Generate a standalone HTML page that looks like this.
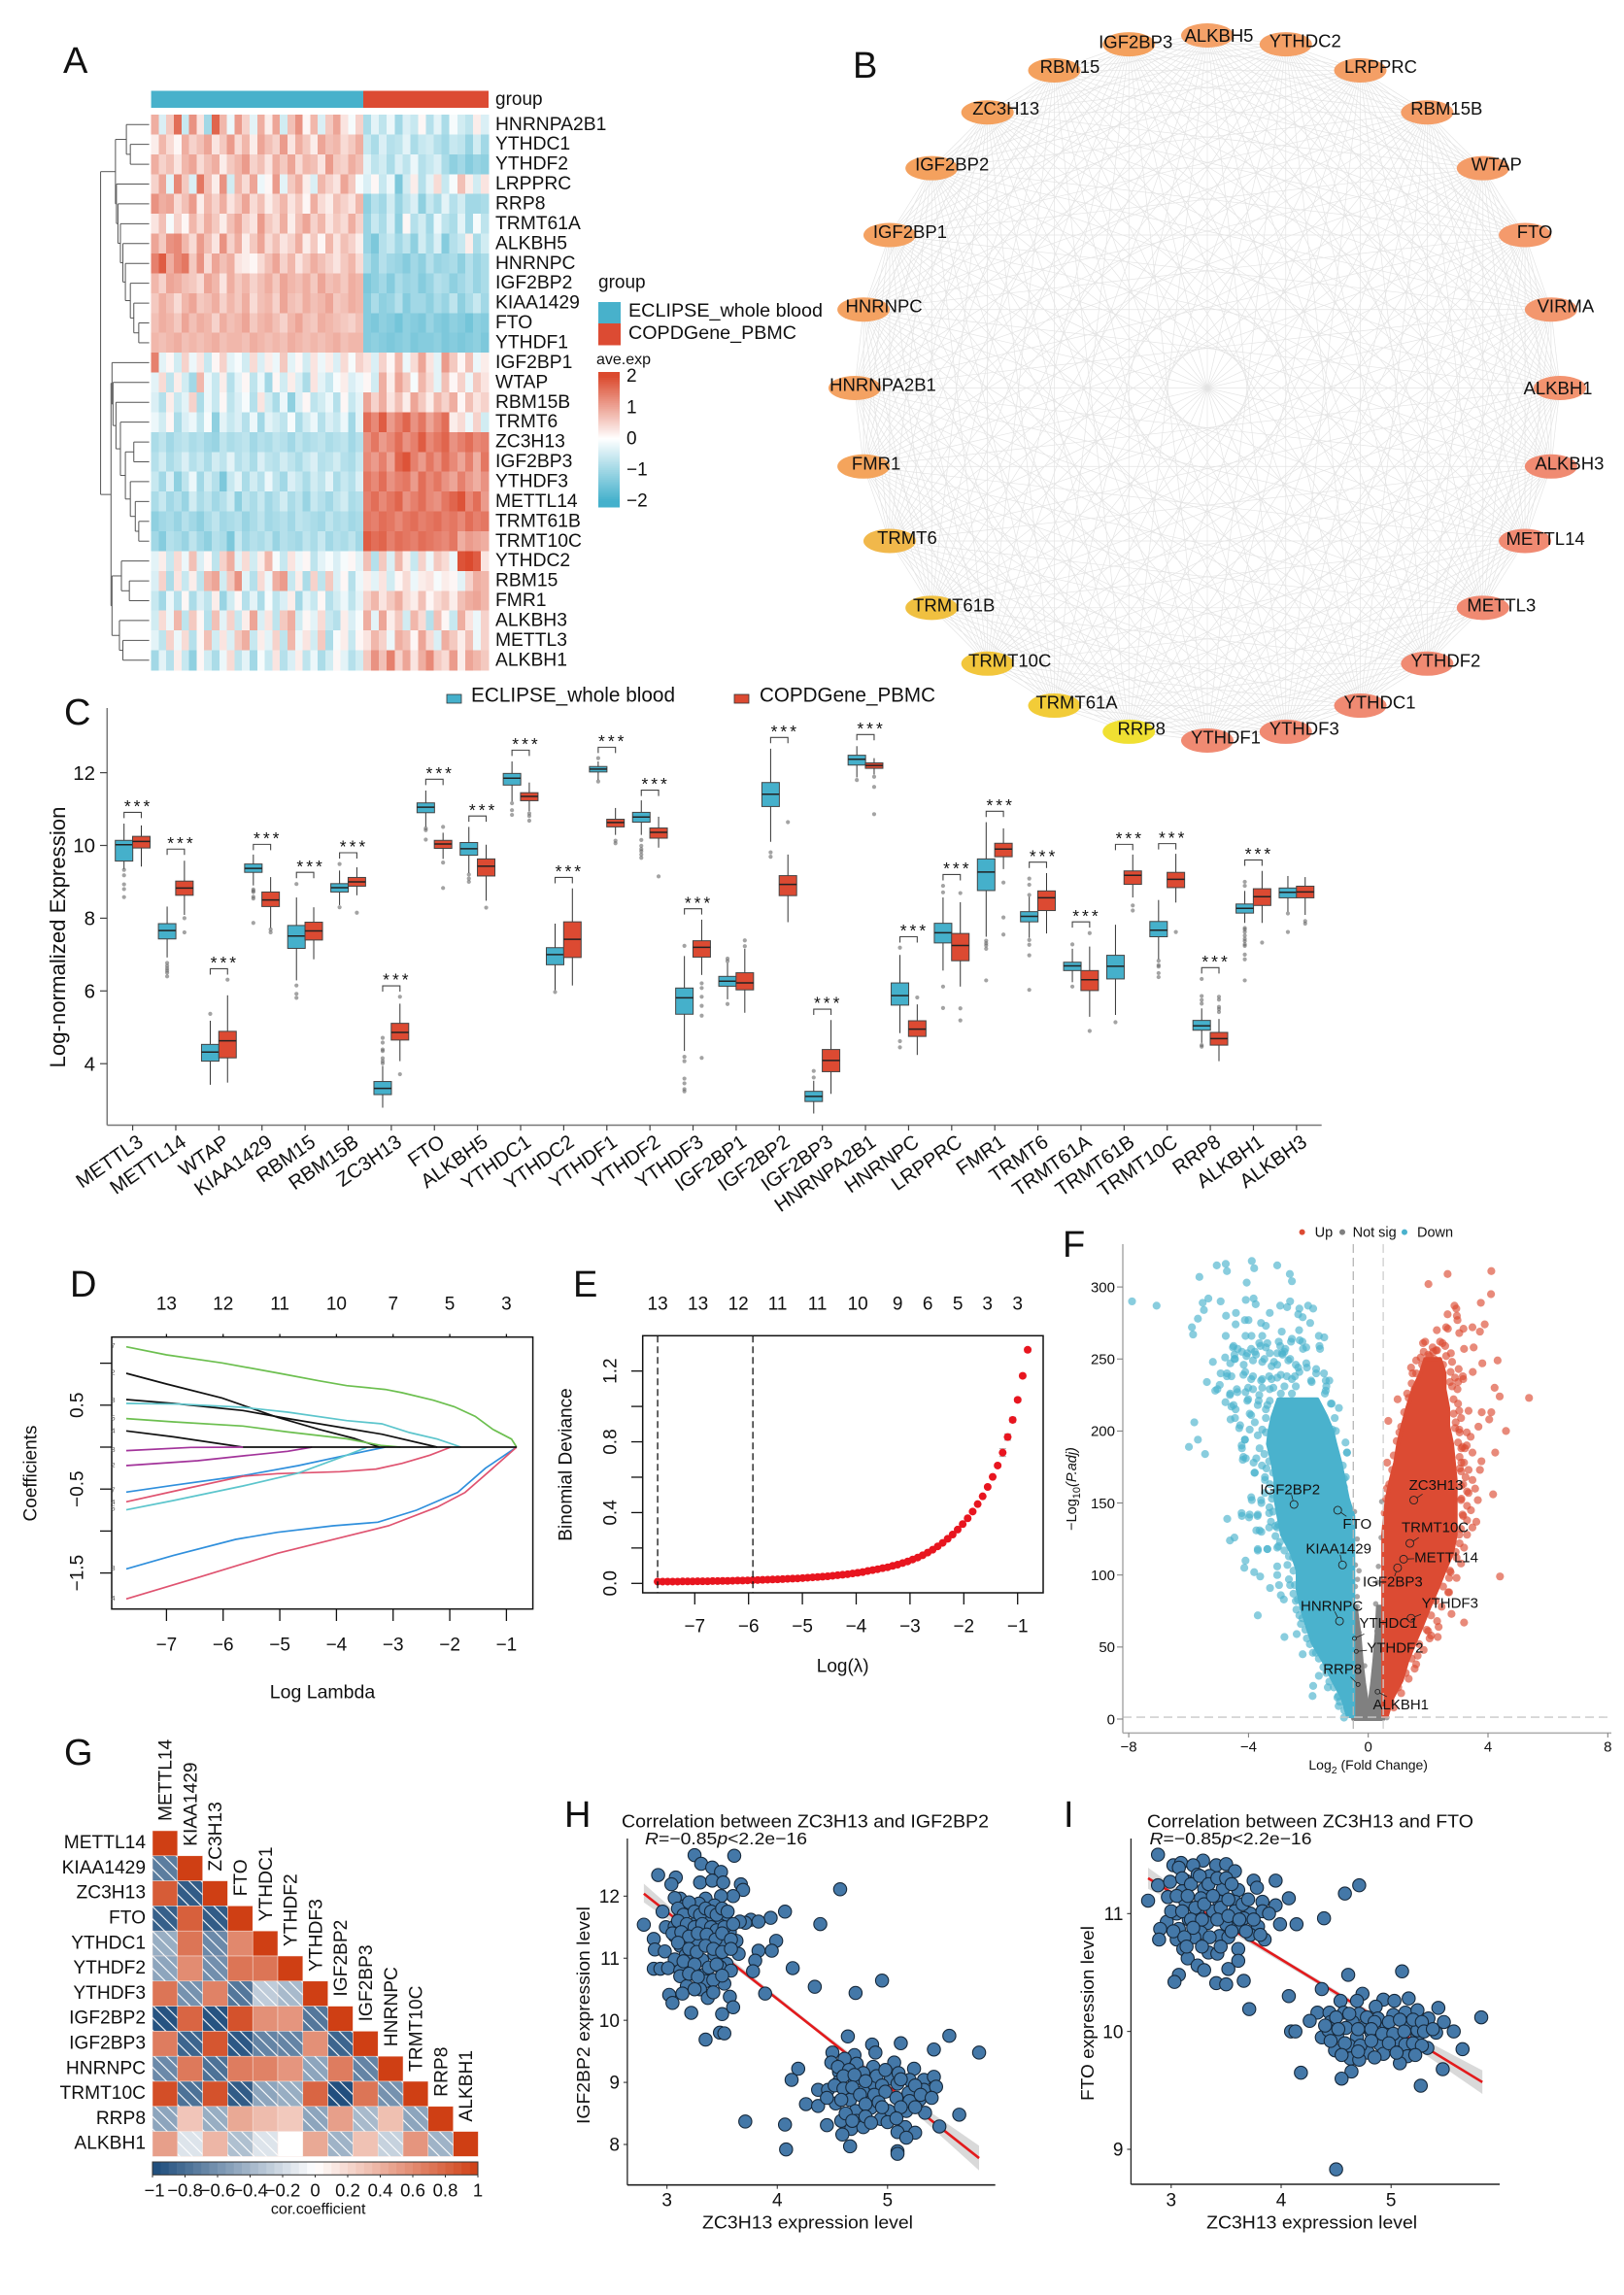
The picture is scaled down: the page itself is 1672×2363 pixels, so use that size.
<!DOCTYPE html>
<html lang="en">
<head>
<meta charset="utf-8">
<title>m6A regulator figure</title>
<style>
html,body{margin:0;padding:0;background:#fff}
svg{display:block}
text{font-family:"Liberation Sans",Arial,sans-serif;fill:#111}
</style>
</head>
<body>
<svg id="fig" xmlns="http://www.w3.org/2000/svg" width="1672" height="2363" viewBox="0 0 1672 2363">
<defs>
<pattern id="hatch" width="9" height="9" patternUnits="userSpaceOnUse" patternTransform="rotate(-45)"><line x1="1" y1="0" x2="1" y2="9" stroke="#fff" stroke-width="1.1"/></pattern>
</defs>
<rect width="1672" height="2363" fill="#fff"/>
<g id="pA"></g>
<g id="pB"></g>
<g id="pC"></g>
<g id="pD"></g>
<g id="pE"></g>
<g id="pF"></g>
<g id="pG"></g>
<g id="pH"></g>
<g id="pI"></g>
<g font-size="38">
<text x="65" y="75">A</text>
<text x="878" y="80">B</text>
<text x="66" y="746">C</text>
<text x="72" y="1335">D</text>
<text x="590" y="1335">E</text>
<text x="1094" y="1294">F</text>
<text x="66" y="1817">G</text>
<text x="581" y="1881">H</text>
<text x="1095" y="1881">I</text>
</g>
</svg>
<script>
/* ---------- DATA: panel A ---------- */
const heatGenes=['HNRNPA2B1','YTHDC1','YTHDF2','LRPPRC','RRP8','TRMT61A','ALKBH5','HNRNPC','IGF2BP2','KIAA1429','FTO','YTHDF1','IGF2BP1','WTAP','RBM15B','TRMT6','ZC3H13','IGF2BP3','YTHDF3','METTL14','TRMT61B','TRMT10C','YTHDC2','RBM15','FMR1','ALKBH3','METTL3','ALKBH1'];
const heatValues=[
[.9,-.4,.6,1.6,-.6,1.2,.3,-1,1.7,.8,-.2,1.1,.5,-.3,.9,.2,1,-.5,.7,1.2,.1,.8,-.4,.6,1,.3,-.1,.5,-.9,-.3,-.7,-.2,-1,-.4,-.6,.1,-.8,-.3,-.9,-.1,-.5,-.7,.2,-.4],
[.2,.8,.4,.1,.9,.5,.7,1,.3,.6,1.1,.4,.8,.2,1,.7,.5,1.1,.3,.9,.6,.2,1,.7,.8,.4,.6,.9,-.6,-.9,-.4,-.8,-.7,-.3,-.9,-.6,-.5,-.8,-1,-.6,-.7,-1.1,-.5,-1],
[.9,.5,.7,.3,.8,1,.4,.7,.9,.2,.6,.8,1.1,.5,.7,.3,.9,.6,1,.4,.8,.7,.3,1.1,.6,.5,.9,.7,-.3,-.7,-.5,-.9,-.4,-.7,-.2,-.8,-.6,-.4,-.9,-1.2,-1,-1.3,-1.1,-1.2],
[.5,1,-.3,1.3,.6,-.4,1.5,.7,.2,1.2,-.5,.8,.4,1,-.2,.1,1.1,-.3,.6,.9,.2,-.4,.8,.5,.3,1,.6,-.1,-.4,.1,-.6,-.2,-1.4,-.5,.2,-.8,-.3,.4,-.6,-.1,.7,.2,-.5,.3],
[1.2,.9,1,.4,.7,1.1,.2,.8,.5,.9,.3,.6,1,.4,.7,.2,.5,.8,.3,.6,.1,.9,.4,.2,.7,.5,.3,.8,-1.2,-.8,-1,-.5,-1.1,-.7,-.4,-1.2,-.6,-.9,-.3,-.8,-.5,-1,-1,-.9],
[.3,.7,-.1,.5,.1,.8,.4,.9,.6,.2,.7,1,.5,.3,1.1,.6,.4,.9,.2,.7,1,.5,.8,.3,.6,.4,.9,.5,-1.1,-.6,-.9,-.4,-1.2,.1,-.8,-.5,-1,-.2,-.7,-.9,-.3,-1,-.1,-.7],
[1,.6,1.2,1.3,.8,.4,1.1,.7,.3,1.2,.5,.9,.2,.6,1,.4,.7,.3,.5,.9,.2,.6,.1,.8,.3,.7,.5,.2,-1.1,-1.4,-.8,-.6,-1,-.7,-1.2,-.5,-.9,-.4,-1.3,-.8,-.6,.2,-.9,-.5],
[1.4,1.8,.9,1.3,1.5,.6,1.2,.4,1,.7,.9,.3,.2,.1,.4,.7,1,.5,.8,.3,.6,.9,.7,.5,.3,.6,.8,.4,-.9,-1.2,-.8,-1,-1.1,-1.3,-1,-1.2,-.8,-1.1,-1,-.9,-1.2,-.8,-1.1,-.9],
[.8,.5,1,.9,.7,.6,.4,1,.8,.3,.9,.6,.8,.5,.7,.9,.6,1,.8,.7,.9,.6,1,.7,.8,.6,.9,.8,-1.4,-1.2,-1,-1.3,-.9,-1.1,-1,-1.3,-1.1,-.8,-.9,-1.2,-1,-.8,-1.1,-.9],
[.6,.9,.7,.4,.8,1,.6,.7,.9,.5,.8,.6,.9,.4,.7,.8,.5,1,.7,.6,.9,.7,.8,1,.6,.7,.9,.8,-1.3,-.9,-1.2,-1.1,-.8,-1.3,-1,-1,-1.2,-.9,-1.1,-.7,-1.2,-.9,-.6,-1],
[.7,.9,.8,.6,1,.7,.9,.8,.5,.9,.7,.8,1,.6,.8,.9,.7,.5,.8,1,.7,.6,.9,.8,.7,.6,.5,.7,-1.3,-1.4,-1.2,-1.3,-1.5,-1.2,-1.3,-1.4,-1.1,-1.3,-1.4,-1.2,-1.3,-1.5,-1.2,-1.3],
[.8,.7,.8,.9,.7,.8,.7,.8,.9,.7,.8,.8,.7,.9,.8,.7,.8,.7,.9,.8,.7,.8,.7,.8,.9,.7,.8,.8,-1.3,-1.2,-1.3,-1.4,-1.3,-1.2,-1.4,-1.3,-1.3,-1.2,-1.4,-1.3,-1.4,-1.3,-1.2,-1.4],
[1.4,-.3,.1,-.5,.5,-.2,.3,-.6,.1,.5,-.3,-.1,-.5,.4,-.4,.2,-.2,.6,-.3,.1,-.5,.3,-.2,.2,-.4,.4,-.1,.5,.3,-.4,.5,.1,.8,-.2,.4,1,.3,-.3,1.1,.6,.1,.7,-.2,.2],
[-.3,.4,-.7,.2,-.5,-1,.8,-.2,-.6,.2,-.8,-.3,.1,-.7,-.2,-1,.1,-.5,.2,-.4,-.9,.3,-.3,-.6,-.1,.2,-.4,-.2,.1,-.5,.9,.2,1,.6,-.1,.8,.4,-.3,.7,.1,.5,-.2,.6,.3],
[-.4,-.8,.2,-.6,-.3,.5,-.9,-.2,-.6,.1,-.7,-.4,-.1,-.8,.3,-.5,-.9,-.2,-1.2,-.4,.1,-.7,-.5,-.2,-.8,.1,-.6,-.3,1,.5,.9,.3,.7,.2,1,.6,.2,.8,.5,.9,.1,.7,.3,.5],
[-.2,-.5,.1,-.9,-.4,-.2,-.7,-.1,-1.2,-.3,-.6,-.4,-.8,-.2,-1,-.3,-.5,-.7,-.1,-.9,-.5,-.2,-.8,-.4,-.6,-.2,-1,-.3,1.6,1.3,1.8,1.1,1.4,1.7,1.2,1.5,1,1.3,1.6,.2,.4,-.2,.5,-.5],
[-.9,-.7,-1,-.8,-.7,-.9,-.8,-1,-1.1,-.7,-.9,-.8,-.7,-1,-.8,-.9,-.7,-.8,-1,-.7,-.9,-.8,-.7,-.9,-.8,-.7,-1,-.8,1.2,1.5,1.1,1.3,1.6,1.2,1.4,1.8,1.3,1.5,1.7,1.2,1.4,1.6,1.3,1.4],
[-.8,-.5,-.9,-.7,-.4,-.8,-.6,-.9,-.5,-.7,-.3,-.8,-.6,-.9,-.4,-.7,-.8,-.5,-.7,-.9,-.6,-.4,-.8,-.7,-.5,-.8,-.9,-.6,1.3,1.1,1.4,1,1.7,1.9,1.4,1.1,1.5,1.2,1.6,1.3,1,1.4,.9,1.5],
[-.6,-1,-.4,-1.2,-.7,-.2,-1,-.5,-.8,-1.4,-.6,-.3,-.9,-.5,-.8,-.2,-.7,-1,-.4,-.6,-.9,-.5,-.7,-.3,-.9,-.6,-.8,-.4,1.5,1.3,1.6,1.2,1.4,1.5,1.1,1.6,1.3,1.5,1.2,1,1.4,1.1,.9,1.2],
[-.9,-.6,-1,-.8,-1.1,-.5,-.9,-.7,-1,-.8,-.5,-1.2,-.7,-.9,-.6,-1,-.8,-.5,-.9,-.7,-1.1,-.6,-.8,-1,-.7,-.5,-.9,-.8,1.4,1.6,1.3,1.5,1.7,1.2,1.4,1.6,1.3,1.2,1.5,1.7,1.9,1.3,1.6,1.1],
[-1.2,-1,-.9,-1.1,-.8,-1,-1.2,-.9,-.7,-1,-.9,-.8,-1.1,-.9,-.7,-1,-.9,-.8,-1,-.7,-.8,-.9,-1,-.7,-.9,-.8,-1,-.9,1.5,1.4,1.6,1.5,1.3,1.5,1.6,1.4,1.5,1.6,1.4,1.5,1.3,1.6,1.4,1.5],
[-1,-1.3,-.8,-.9,-1.1,-.7,-1,-1.2,-.8,-.9,-1.4,-.6,-1,-.8,-.9,-.7,-1.1,-.8,-.9,-1,-.7,-.9,-.6,-1,-.8,-.9,-.7,-1,1.8,1.6,1.7,1.4,1.6,1.5,1.4,1.6,1.5,1.4,1.3,1.5,.9,1.1,1,.9],
[-.3,.2,-.6,.4,-.2,.7,-.4,.1,-.7,.5,.9,-.3,.4,-.5,.2,.8,-.1,-.6,.3,-.2,.1,-.7,-.3,-.1,-.4,-.1,.1,-.3,.7,-.8,.6,-.4,.8,.2,-.6,.5,-.2,.6,.4,-.2,1.9,2,1.8,.3],
[-.4,.5,-.9,.3,-.6,.2,-.7,.8,1,-.5,.6,1.2,-.3,-.8,.4,-.2,.9,1.1,-.6,.2,-.9,.5,-.7,.6,-.4,.1,-.8,-.2,.2,-.3,.3,-.5,.1,.4,-.2,.2,.3,-.1,.2,.1,-.3,.5,.9,.8],
[-.6,-1,-.2,-.8,.1,-.9,-.4,-.7,.2,-1.1,-.5,.1,-.8,-.3,-.9,-.1,-.7,-.4,.2,-1,-.3,-.6,.1,-.8,-.5,-.2,-.7,-.3,.5,.8,.3,.6,.9,.4,.2,.7,.1,.4,.6,.2,.7,.9,1,.8],
[-.5,.4,-.2,.8,-.7,.6,.1,-.8,.7,-.3,.5,-.6,.2,1,-.4,.3,-.7,.6,.9,-.5,.1,-.3,.4,-.6,-.8,.2,-.4,-.1,.9,-.3,1,.2,.6,-.5,.8,.4,-.8,.7,.1,-.6,.9,.3,-.2,.5],
[-.3,-.7,.5,-.2,.4,-.8,.1,.7,-.5,.3,-.4,.6,.9,-.6,.2,-.3,.5,-.7,.8,-.2,.3,-.5,.6,-.9,-.1,.2,-.6,.1,.3,.8,.5,-.2,.9,.7,.1,1,.4,-.4,.9,.6,.2,.7,-.2,.5],
[-1,-.3,-.8,.2,-.6,-1.2,.1,-.5,-.9,-.2,.4,-.7,-.3,-1,-.1,-.6,.3,-.8,-.4,.2,-.7,-.2,-.9,-.5,.1,-.3,-.8,-.5,.6,1.2,.7,1.4,.5,1,.3,.9,1.3,.6,.4,1.1,.2,1,.8,.6]
];
/* ---------- DATA: panel B ---------- */
const netNodes=['ALKBH5','YTHDC2','LRPPRC','RBM15B','WTAP','FTO','VIRMA','ALKBH1','ALKBH3','METTL14','METTL3','YTHDF2','YTHDC1','YTHDF3','YTHDF1','RRP8','TRMT61A','TRMT10C','TRMT61B','TRMT6','FMR1','HNRNPA2B1','HNRNPC','IGF2BP1','IGF2BP2','ZC3H13','RBM15','IGF2BP3'];
const netColors=['#f4a168','#f4a066','#f49f66','#f49e68','#f49c68','#f49a6c','#f3976e','#f3936f','#f08b72','#f08a72','#f08a72','#f08a72','#f08a72','#f08a72','#f08a72','#f0e032','#f2cc38','#f2c63c','#f0c040','#f1b84b','#f4a45c','#f4a262','#f4a262','#f4a262','#f4a15e','#f4a15e','#f4a15e','#f4a15e'];
/* ---------- DATA: panel C ---------- */
const boxGenes=['METTL3','METTL14','WTAP','KIAA1429','RBM15','RBM15B','ZC3H13','FTO','ALKBH5','YTHDC1','YTHDC2','YTHDF1','YTHDF2','YTHDF3','IGF2BP1','IGF2BP2','IGF2BP3','HNRNPA2B1','HNRNPC','LRPPRC','FMR1','TRMT6','TRMT61A','TRMT61B','TRMT10C','RRP8','ALKBH1','ALKBH3'];
const blueStats=[[9.35,9.57,10.02,10.14,10.6],[6.92,7.43,7.66,7.85,8.32],[3.42,4.07,4.32,4.53,5.18],[8.9,9.26,9.37,9.49,9.75],[6.29,7.17,7.51,7.8,8.57],[8.36,8.72,8.84,8.95,9.31],[2.79,3.15,3.32,3.51,3.94],[10.51,10.9,11.05,11.17,11.51],[9.24,9.73,9.91,10.08,10.51],[11.21,11.66,11.85,11.98,12.31],[6.02,6.72,7,7.19,7.85],[11.8,12.02,12.1,12.17,12.31],[10.29,10.64,10.78,10.91,11.24],[4.35,5.36,5.81,6.08,6.96],[5.77,6.13,6.27,6.4,6.77],[10.1,11.07,11.41,11.73,12.66],[2.63,2.96,3.1,3.24,3.53],[11.87,12.21,12.37,12.48,12.73],[4.84,5.61,5.87,6.22,6.99],[6.56,7.32,7.6,7.86,8.57],[7.49,8.76,9.27,9.63,10.64],[7.46,7.9,8.05,8.18,8.59],[6.24,6.56,6.69,6.79,7.16],[5.34,6.33,6.68,6.98,7.82],[6.87,7.49,7.67,7.91,8.5],[4.57,4.92,5.04,5.19,5.52],[7.87,8.14,8.27,8.39,8.75],[8.18,8.56,8.71,8.83,9.16]];
const redStats=[[9.42,9.93,10.11,10.25,10.55],[8.09,8.63,8.83,9.02,9.58],[3.48,4.16,4.63,4.89,5.88],[7.73,8.32,8.5,8.72,9.13],[6.87,7.4,7.65,7.89,8.3],[8.63,8.88,9,9.12,9.4],[4.07,4.65,4.86,5.11,5.65],[9.63,9.92,10.04,10.14,10.35],[8.48,9.16,9.43,9.63,10.02],[10.94,11.23,11.35,11.45,11.73],[6.15,6.92,7.42,7.9,8.82],[10.29,10.51,10.63,10.72,11.03],[9.94,10.2,10.36,10.48,10.79],[6.44,6.93,7.2,7.38,7.96],[5.4,6.03,6.22,6.5,7.16],[7.89,8.62,8.93,9.17,9.75],[3.17,3.78,4.09,4.39,5.2],[11.95,12.12,12.2,12.27,12.4],[4.24,4.75,4.95,5.18,5.63],[6.12,6.83,7.25,7.58,8.44],[9.35,9.69,9.9,10.06,10.47],[7.58,8.21,8.56,8.75,9.24],[5.29,6.01,6.31,6.56,7.22],[8.57,8.93,9.18,9.3,9.75],[8.43,8.84,9.07,9.26,9.77],[4.07,4.51,4.69,4.86,5.23],[7.87,8.35,8.59,8.81,9.3],[8.09,8.56,8.72,8.88,9.13]];
const blueOutliers=[[9.33,9.18,8.93,8.8,8.58],[6.77,6.69,6.62,6.56,6.5,6.4],[5.37],[8.79,8.75,8.72,8.59,8.54,7.87],[8.94,6.15,5.92,5.81],[9.49,8.3],[4.71,4.58,4.39,4.35,4.15,4.07,4.01],[10.47,10.42,10.16],[9.2,9.09,9],[11.16,10.97,10.84],[5.97],[12.4,11.76],[10.15,9.99,9.9,9.84,9.75,9.66],[7.24,4.19,4.07,3.59,3.46,3.3,3.24],[6.89,6.82,5.64],[9.81,9.69],[3.8,3.62],[11.8],[7.19,4.62,4.45],[8.89,8.71,6.12,5.53],[7.38,7.31,7.25,7.16,6.29],[9.09,8.92,8.64,7.4,7.27,6.98,6.03],[7.28,6.12],[5.14],[6.83,6.71,6.67,6.49,6.38],[6.33,5.86,5.75,5.65,4.51,4.47],[9,8.89,7.73,7.69,7.62,7.52,7.43,7.37,7.28,7.24,7,6.87,6.29],[8.13,7.62]];
const redOutliers=[[],[8,7.61],[6.31],[7.69,7.61],[],[8.15],[5.84,3.71],[10.51,9.53,8.83],[8.29],[10.88,10.81,10.68],[],[10.13,10.06],[9.15],[6.21,6.08,5.84,5.59,5.32,4.16],[7.39,7.23],[10.64],[],[11.89,11.61,10.86],[5.82],[8.69,5.52,5.19],[8.98,8.02,7.55],[],[7.59,4.9],[8.35,8.21],[7.62],[5.84,5.76,5.56,5.5,5.42],[7.33],[7.92,7.85]];
const sigBracket=[10.91,9.9,6.61,10.03,9.26,9.8,6.14,11.82,10.81,12.62,9.12,12.7,11.52,8.26,null,12.97,5.5,13.05,7.49,9.2,10.94,9.54,7.9,10.03,10.05,6.64,9.6,null];
const boxYTicks=[4,6,8,10,12];
/* ---------- DATA: panel D ---------- */
const lassoColors=['#6cbf4f','#111','#111','#5cc5cc','#6cbf4f','#111','#a2339a','#a2339a','#2f8fdc','#df5370','#5cc5cc','#2f8fdc','#df5370','#111'];
const lassoLambda=[
[-7.71,-7,-6.02,-5.01,-4.31,-3.82,-3.14,-2.84,-2.29,-1.92,-1.55,-1.24,-.91,-.82],
[-7.71,-7,-6.02,-5.04,-4.31,-3.69,-3.24],
[-7.71,-6.88,-5.65,-4.92,-3.2,-2.22],
[-7.71,-6.76,-5.65,-4.86,-3.82,-3.2,-2.71,-2.22,-1.8],
[-7.71,-6.88,-5.65,-4.86,-3.82,-3.2,-2.87],
[-7.71,-6.88,-5.65],
[-7.71,-6.57,-5.65],
[-7.71,-6.45,-5.53,-4.86,-4.43],
[-7.71,-6.88,-5.65,-4.67,-3.82,-3.14],
[-7.71,-6.76,-5.65,-5.04,-3.94,-3.3,-2.84,-2.35,-1.98],
[-7.71,-6.88,-5.65,-4.67,-3.82,-3.45],
[-7.71,-6.88,-5.78,-5.04,-4.06,-3.27,-2.59,-1.86,-1.37,-.82],
[-7.71,-6.39,-5.04,-3.82,-3.08,-2.22,-1.73,-1.24,-.82],
[-5.65,-.82]];
const lassoCoef=[
[1.196,1.1,1.003,.88,.79,.733,.687,.648,.559,.482,.367,.212,.096,0],
[.88,.752,.586,.355,.212,.104,0],
[.567,.521,.436,.347,.154,0],
[.521,.513,.475,.417,.316,.278,.174,.096,0],
[.34,.301,.251,.181,.1,.019,0],
[.193,.123,0],
[-.042,-.004,0],
[-.22,-.162,-.096,-.05,0],
[-.536,-.455,-.34,-.22,-.096,0],
[-.652,-.509,-.347,-.316,-.293,-.262,-.193,-.096,0],
[-.748,-.637,-.463,-.309,-.096,0],
[-1.451,-1.292,-1.1,-1.015,-.938,-.895,-.752,-.54,-.251,0],
[-1.809,-1.543,-1.265,-1.061,-.938,-.714,-.54,-.251,0],
[0,0]];
const lassoTinyLabels=['7','2','3','5','4','8','2','7','4','5','3','4'];
const lassoTinyCoef=[1.21,.89,.56,.35,.2,-.03,-.21,-.51,-.65,-.73,-1.44,-1.8];
const lassoTop=['13','12','11','10','7','5','3'];
const lassoXTicks=[-7,-6,-5,-4,-3,-2,-1];
const lassoYTicks=[1,.5,0,-.5,-1,-1.5];
const lassoYLabels=['','0.5','','−0.5','','−1.5'];
/* ---------- DATA: panel E ---------- */
const devianceMean=[.01,.01,.01,.01,.01,.011,.011,.011,.012,.012,.012,.013,.013,.014,.014,.015,.016,.016,.017,.018,.019,.02,.021,.022,.023,.024,.026,.027,.028,.03,.032,.034,.036,.038,.04,.043,.046,.049,.052,.056,.06,.064,.07,.075,.08,.086,.091,.099,.106,.115,.124,.135,.146,.159,.174,.19,.209,.229,.252,.276,.304,.335,.368,.406,.448,.492,.545,.602,.666,.739,.827,.924,1.037,1.173,1.32];
const devianceTopLambda=[-7.69,-6.94,-6.19,-5.46,-4.72,-3.97,-3.23,-2.67,-2.11,-1.56,-1];
const devianceTopCount=['13','13','12','11','11','10','9','6','5','3','3'];
const devianceVlines=[-7.69,-5.92];
const devianceErr=[.012,.012,.012,.015,.018,.022];
const devianceXTicks=[-7,-6,-5,-4,-3,-2,-1];
const devianceYTicks=[0,.2,.4,.6,.8,1,1.2];
const devianceYLabels=['0.0','','0.4','','0.8','','1.2'];
/* ---------- DATA: panel F ---------- */
const downLfc=[-7.89,-7.07,-5.06,-4.76,-4.72,-3.89,-3.81,-3.04,-2.62,-2.55,-5.64,-4.06,-5.34,-5.53,-5.49,-5.69,-5.89,-5.85,-4.93,-4.09,-3.83,-3.76,-3.29,-2.94,-2.71,-2.61,-2.3,-2.01,-1.84,-2.34,-2.19,-1.94,-4.75,-4.76,-4.42,-4.43,-4.12,-4,-3.58,-3.42,-2.89,-2.31,-1.65,-1.47,-1.61,-2.07,-2.58,-2.2,-2.94,-2.8,-3.54,-4.1,-3.9,-4.52,-4.47,-5.19,-4.78,-4.93,-4.72,-4.57,-4.17,-5.11,-5.39,-4.96,-4.77,-4.62,-4.37,-4.57,-4.43,-4.6,-4.45,-4.31,-4.04,-3.91,-5.81,-5.69,-5.99,-5.45,-4.12,-4.22,-4.19,-4.09,-3.83,-3.79,-3.89,-3.57,-4.71,-4.22,-3.98,-3.7,-3.74,-3.57,-4.47,-4.62,-3.69,-3.37,-4.1,-4.14,-3.81,-3.61,-3.28,-2.98,-2.61,-2.92,-2.82,-2.42,-3.69,-2.8,-2.39,-2.19,-1.85,-1.65,-1.84,-1.86,-1.35,-1.03,-.99,-.81,-1.74,-2,-2.2,-3.04,-3.04,-2.51,-3.04,-3.04,-2.05,-1.48,-1.3,-1.4,-1.45,-1.74,-2.3,-2.55,-2.55,-1.89,-1.22,-1.12,-1.2,-.76,-.71,-1.33,-.81,-.81,-.83,-.87,-4.47,-4.22,-4.04,-3.79,-3.6,-3.42,-3.29,-3.04,-2.86,-2.67,-2.42,-3.04,-3.23,-3.54,-3.85,-4.16,-3.54,-3.23,-2.92,-3.54,-3.17,-2.8,-2.42,-3.85,-4.1,-3.66,-3.29,-2.92,-3.42,-3.79,-3.54,-3.29,-3.91];
const downP=[290,287,315,316,311,318,313,315,309,304,307,303,292,289,284,278,272,267,290,291,292,288,282,287,286,290,285,287,285,281,279,275,280,266,282,274,277,277,275,273,269,270,266,265,257,258,262,262,259,255,266,266,266,258,253,248,251,240,238,238,239,228,234,232,220,225,227,217,215,208,209,202,221,211,206,194,189,184,194,188,180,181,178,171,152,150,139,141,140,141,131,130,126,124,117,118,110,105,102,99,91,93,93,86,83,82,72,57,59,45,46,30,23,16,22,15,9,1,61,66,70,100,106,112,119,133,244,240,235,231,226,240,241,236,226,234,219,209,201,192,185,183,167,161,153,146,250,255,254,255,259,258,254,254,253,249,246,246,245,248,249,246,236,236,239,230,230,231,231,229,227,221,221,226,215,206,201,229,236];
const downEdgeLfc=[-4.5,-4.36,-3.91,-3.64,-3.37,-2.99,-2.55,-2.29,-2.77,-2.18,-1.63,-4.07,-3.75,-3.47,-3.15,-2.88,-2.61,-2.07,-2.34,-1.74,-4.45,-4.61,-4.72,-4.11,-3.85,-3.58,-3.31,-3.04,-2.72,-2.45,-1.91,-1.42,-1.42,-5.04,-4.39,-4.01,-4.61,-4.01,-3.64,-4.5,-3.96,-3.69,-3.37,-3.42,-4.28,-3.96,-3.69,-3.42,-4.12,-4.23,-3.63,-3.47,-4.17,-3.74,-3.31,-3.8,-3.45,-3.18,-3.91,-3.58,-3.2,-4.23,-3.96,-3.69,-3.31,-3.63,-3.31,-3,-3.69,-3.37,-1.25,-.98,-1.08,-.71,-3.55,-3.4,-.85,-3.45,-3.28,-.75,-3.45,-3.22,-3.3,-3.18,-3.25,-3.1,-3.1,-2.95,-3,-2.8,-2.65,-2.7,-2.5,-2.65,-2.45,-2.5,-2.35,-2.4,-2.3,-2.25,-2.1,-2.05,-1.95,-1.75,-1.65,-1.5,-1.4,-1.3,-1.15,-1,-.95,-.8];
const downEdgeP=[259,257,257,261,261,262,264,263,257,257,259,252,253,250,248,254,250,247,244,243,250,247,240,241,238,235,238,237,238,238,235,235,228,229,229,230,226,222,225,218,212,218,218,209,204,201,197,199,194,190,188,184,182,181,179,171,168,171,154,152,156,143,142,142,143,131,133,135,118,118,219,216,200,185,176,174,176,166,163,168,157,153,147,144,137,134,127,123,120,117,113,107,103,97,93,87,83,76,72,66,62,56,52,46,42,36,32,26,22,16,12,6];
const upLfc=[2.65,2.01,4.11,4.1,3.76,2.88,2.94,2.96,2.65,2.98,2.6,2.29,2.66,3.04,3.18,3.48,3.73,3.89,1.83,2.48,2.57,2.26,3.2,3.52,2.76,2,1.75,4.32,3.81,3.02,3.49,3.16,3.17,1.48,4.22,4.39,5.37,3.79,4.11,4.04,4.6,3.68,3.35,.98,.67,1.04,3.29,3.04,3.42,3.11,3.23,3.48,4.24,3.78,3.73,3.06,3.35,.63,3.48,3.57,3.35,4.17,3.66,3.43,3.61,3.48,.62,.81,.75,4.4,2.7,2.67,2.78,3.2,2.35,2.32,2,2.05,1.65,1.55,.93,2.98,2.73,3.04,2.92,3.29,3.11,3.17,3.11,3.17,3.04,2.92,2.73,1.43,1.3,2.17,1.8];
const upP=[309,302,311,295,289,287,285,280,281,277,272,270,271,268,271,272,269,274,261,261,259,256,257,258,254,253,251,249,247,243,241,238,236,240,230,224,223,213,213,208,200,203,214,222,207,199,199,201,196,188,188,185,185,179,173,174,173,178,166,160,157,156,152,145,137,133,160,160,151,99,98,88,73,67,64,57,61,56,44,35,46,229,234,214,206,190,178,163,153,141,128,116,103,244,226,255,246];
const upEdgeLfc=[1.9,2.15,2.4,1.85,2.05,2.3,2.6,1.6,1.95,2.2,2.5,2.8,1.6,2.75,2.9,1.45,1.55,2.8,3,1.35,1.5,2.85,3,1.2,1.35,2.85,3.1,1.1,1.25,2.9,3.05,.95,1.15,3,3.15,.85,1.05,3.05,3.2,.8,1,3.1,3.25,.7,.9,3.1,3.3,.6,.85,3.1,3.3,.55,3.15,3.3,3.1,3.3,3.05,3.2,2.95,3.1,2.75,2.95,2.5,2.7,2.25,2.45,2.1,2.3,1.95,2.1,1.7,1.85,1.45,1.6,1.25,1.35,1,1.1,.75,.85];
const upEdgeP=[262,258,262,255,252,256,252,249,247,250,246,248,240,241,237,233,229,231,234,223,220,222,219,213,210,212,209,203,200,202,199,193,190,192,189,183,180,182,178,173,170,172,168,163,160,162,158,153,150,152,148,143,142,138,132,128,122,119,112,108,102,98,92,88,82,78,72,68,62,58,52,48,42,38,32,28,22,18,12,8];
const graySigLfc=[-.46,-.37,.45,.43,-.31,-.43,-.36,-.43,.34,.31,.25,-.37,-.37,-.31,.29,-.12,.62,-.5];
const graySigP=[144,125,151,126,103,107,97,92,106,95,80,85,78,60,61,37,1,1];
const downCoreP=[222,210,200,191,178,166,153,141,128,115,103,90,78,65,53,40,27,15,2];
const downCoreLeft=[-3,-3.2,-3.3,-3.35,-3.2,-3.1,-3.1,-3,-2.88,-2.55,-2.36,-2.36,-2.24,-2.05,-1.86,-1.49,-1.18,-.87,-.68];
const downCoreRight=[-1.7,-1.4,-1.2,-1.1,-.93,-.81,-.68,-.5,-.5,-.5,-.5,-.5,-.5,-.5,-.5,-.5,-.5,-.5,-.5];
const upCoreP=[250,240,229,216,204,191,178,166,153,141,128,115,103,90,78,65,53,40,27,15,2];
const upCoreLeft=[1.9,1.75,1.5,1.3,1.15,1,.9,.75,.62,.55,.5,.5,.5,.5,.5,.5,.5,.5,.5,.5,.5];
const upCoreRight=[2.4,2.55,2.55,2.67,2.67,2.8,2.86,2.92,2.92,2.92,2.92,2.8,2.55,2.3,2.05,1.8,1.55,1.3,1.12,.81,.62];
const grayCoreP=[78,60,40,25,12,0];
const grayOuterLeft=[-.5,-.5,-.5,-.45,-.5,-.5];
const grayInnerLeft=[-.42,-.3,-.22,-.14,-.05,0];
const grayInnerRight=[.32,.28,.2,.13,.05,0];
const grayOuterRight=[.42,.4,.4,.42,.48,.5];
const volcanoGenes=['IGF2BP2','FTO','KIAA1429','HNRNPC','YTHDC1','YTHDF2','RRP8','ALKBH1','ZC3H13','TRMT10C','METTL14','IGF2BP3','YTHDF3'];
const volcanoGeneLfc=[-2.48,-1.02,-.86,-.96,-.46,-.4,-.34,.31,1.52,1.39,1.18,.98,1.43];
const volcanoGeneP=[149,145,107,68,56,47,24,19,152,122,111,105,70];
const volcanoXTicks=[-8,-4,0,4,8];
const volcanoYTicks=[0,50,100,150,200,250,300];
/* ---------- DATA: panel G ---------- */
const corGenes=['METTL14','KIAA1429','ZC3H13','FTO','YTHDC1','YTHDF2','YTHDF3','IGF2BP2','IGF2BP3','HNRNPC','TRMT10C','RRP8','ALKBH1'];
const corValues=[
[1],
[-.72,1],
[.85,-.9,1],
[-.88,.83,-.9,1],
[-.45,.72,-.65,.62,1],
[-.5,.6,-.62,.72,.72,1],
[.72,-.6,.65,-.75,-.28,-.38,1],
[-.95,.8,-.95,.9,.58,.55,-.75,1],
[.68,-.85,.88,-.92,-.68,-.68,.58,-.85,1],
[-.65,.7,-.78,.68,.65,.55,-.5,.68,-.68,1],
[.92,-.78,.9,-.9,-.5,-.45,.8,-.97,.72,-.6,1],
[-.5,.3,-.45,.45,.35,.28,-.5,.5,-.38,.33,-.5,1],
[.5,-.15,.38,-.35,-.15,0,.45,-.42,.32,-.25,.55,-.42,1]];
const corTicks=[-1,-.8,-.6,-.4,-.2,0,.2,.4,.6,.8,1];
const corTickLabels=['−1','−0.8','−0.6','−0.4','−0.2','0','0.2','0.4','0.6','0.8','1'];
/* ---------- DATA: panel H ---------- */
const hX=[2.79,2.92,3.25,3.31,3.61,3.41,3.49,3.08,3.04,3.3,3.41,3.51,3.67,3.69,3.6,4.57,4.07,3.94,4.39,3.76,3.83,3.71,2.96,3.12,3.07,3.16,3.35,3.49,3.29,3.43,3.12,3.28,3.39,3.53,3.66,2.99,3.07,3.21,3.35,3.48,3.57,2.88,2.89,2.98,3.07,3.16,3.28,3.42,3.63,3.12,3.52,3.99,3.95,3.83,3.8,3.65,3.17,3.07,3.32,3.43,3.54,2.88,2.94,3.01,3.12,3.24,3.48,3.78,4.14,3.12,3.35,3.52,3.18,3.35,3.14,3.3,3.37,3.02,3.05,3.57,3.89,4.34,4.71,4.95,3.22,3.5,3.6,3.35,3.48,3.52,4.64,5.56,5.83,5.12,5.42,4.86,4.5,4.7,4.89,4.61,4.49,5.06,4.87,4.72,5.24,4.19,4.56,4.13,4.7,4.87,5.03,5.2,5.33,5.42,4.56,4.37,4.46,4.78,5.09,5.19,5.33,5.44,4.66,4.26,4.37,4.53,4.85,5.01,5.17,5.34,5.29,4.71,5.65,4.58,4.72,4.94,5.47,5,4.45,4.07,3.71,4.67,5.16,5.09,5.25,4.78,4.59,5.17,4.66,4.08,5.09,5.09,
3.1,3.15,3.2,3.25,3.3,3.35,3.4,3.45,3.5,3.55,3.1,3.18,3.25,3.32,3.4,3.45,3.52,3.6,3.05,3.13,3.2,3.28,3.36,3.44,3.5,3.58,3.1,3.2,3.27,3.35,3.42,3.5,3.58,3.15,3.25,3.38,3.45,3.58,3.2,3.28,3.42,3.5,3.25,3.42,
4.55,4.65,4.78,4.9,4.98,5.1,4.6,4.7,4.8,4.95,5.12,5.25,4.52,4.6,4.68,4.75,4.88,4.98,5.08,5.2,5.3,5.4,4.45,4.58,4.8,4.92,5.12,5.25,4.62,4.8,4.68,4.85,5.08,4.95];
const hY=[11.54,12.34,12.66,12.52,12.65,12.46,12.39,12.3,12.19,12.22,12.25,12.22,12.19,12.1,12,12.11,11.75,11.65,11.55,11.62,11.59,11.57,11.75,11.96,11.97,11.84,11.96,12,11.88,11.85,11.66,11.63,11.66,11.67,11.59,11.5,11.51,11.46,11.49,11.53,11.42,11.31,11.14,11.11,11.36,11.31,11.25,11.36,11.28,11.2,11.23,11.28,11.12,11.12,10.96,11.07,11.05,10.98,10.97,11.06,10.91,10.83,10.83,10.84,10.8,10.81,10.86,10.79,10.84,10.71,10.75,10.59,10.55,10.63,10.43,10.5,10.36,10.41,10.28,10.38,10.43,10.54,10.44,10.64,10.12,10.1,10.21,9.69,9.8,9.79,9.74,9.75,9.48,9.63,9.53,9.61,9.48,9.44,9.48,9.38,9.32,9.32,9.25,9.3,9.22,9.22,9.17,9.04,9.04,8.98,9.06,9.04,9.04,9.09,9.01,8.88,8.88,8.85,8.98,8.83,8.88,8.93,8.72,8.65,8.62,8.66,8.59,8.54,8.54,8.51,8.72,8.54,8.48,8.38,8.38,8.41,8.29,8.36,8.31,8.32,8.37,8.25,8.28,8.2,8.19,8.28,8.16,8.11,7.97,7.92,7.89,7.85,
11.8,11.7,11.9,11.75,11.7,11.8,11.75,11.7,11.8,11.75,11.6,11.55,11.5,11.55,11.5,11.45,11.5,11.55,11.4,11.42,11.35,11.4,11.38,11.3,11.4,11.3,11.25,11.15,11.1,11.2,11.15,11.1,11.15,10.95,10.9,10.85,10.9,10.8,10.75,10.7,10.65,10.72,10.5,10.45,
9.25,9.2,9.15,9.1,9.2,9.15,9.1,9.12,9.02,8.95,9.05,8.95,8.95,8.9,8.92,8.8,8.8,8.85,8.75,8.7,8.8,8.75,8.75,8.72,8.65,8.68,8.6,8.6,8.5,8.45,8.38,8.35,8.42,8.6];
const hBandX=[2.79,3.3,3.8,4.3,4.8,5.3,5.83];
const hBandLo=[11.9,11.26,10.59,9.9,9.18,8.43,7.58];
const hBandHi=[12.2,11.4,10.67,9.96,9.28,8.63,7.98];
const hFitX=[2.79,5.83];
const hFitY=[12.04,7.78];
const hXTicks=[3,4,5];
const hYTicks=[8,9,10,11,12];
/* ---------- DATA: panel I ---------- */
const iX=[2.88,2.79,2.88,3.02,3.09,3.29,3.2,3.41,3.5,3.07,3.24,3.58,2.99,3.13,3.35,3.75,3.95,3.78,4.71,4.58,4.07,2.97,3.1,3.3,3.47,3.61,3.13,3.27,3.44,3.58,3.83,3.95,3.05,3.24,3.38,3.58,3.72,3.83,3.89,4.39,2.96,3.16,3.33,3.5,3.66,3.99,4.14,2.9,3.07,3.27,3.44,3.61,3.79,2.89,3.05,3.21,3.52,3.72,3.85,3.81,3.11,3.34,3.42,3.61,3.15,3.61,3.24,3.3,3.52,3.07,3.03,3.41,3.5,3.66,4.61,5.1,4.37,4.07,3.71,4.74,5.16,4.54,4.69,4.93,5.03,4.86,5.43,4.33,4.44,4.57,4.71,5.02,5.13,5.24,5.82,4.26,4.45,4.65,4.88,5.34,5.48,4.59,4.76,4.96,5.15,4.09,4.13,5.57,5.41,5.24,4.37,4.51,4.69,5.05,4.62,4.9,5.13,5.33,5.65,4.49,4.79,4.93,5.15,4.63,4.71,5.08,5.47,4.18,4.64,4.55,5.27,4.5,5.24,4.82,4.43,
3.1,3.18,3.26,3.34,3.42,3.5,3.55,3.05,3.15,3.22,3.3,3.38,3.45,3.52,3.65,3.7,3,3.1,3.18,3.28,3.42,3.52,3.62,3.75,3.02,3.12,3.2,3.35,3.55,3.68,3.14,3.28,3.45,
4.5,4.62,4.78,4.85,4.98,5.08,5.2,5.28,4.4,4.52,4.7,4.82,4.92,5.02,5.12,5.3,5.38,4.45,4.58,4.72,4.82,4.98,5.2,5.28,4.55,4.7,4.85,5.05,5.22];
const iY=[11.5,11.11,11.24,11.41,11.43,11.45,11.41,11.41,11.42,11.39,11.33,11.36,11.27,11.28,11.32,11.28,11.28,11.22,11.24,11.17,11.13,11.14,11.19,11.21,11.21,11.2,11.1,11.13,11.1,11.1,11.1,11.07,11,11,11.02,11.02,11,11.02,11,10.96,10.93,10.95,10.92,10.91,10.96,10.91,10.91,10.87,10.87,10.84,10.81,10.89,10.89,10.78,10.78,10.8,10.8,10.82,10.78,10.82,10.7,10.67,10.66,10.7,10.62,10.6,10.56,10.52,10.53,10.48,10.42,10.41,10.4,10.43,10.48,10.51,10.36,10.3,10.19,10.32,10.28,10.26,10.26,10.27,10.26,10.21,10.2,10.16,10.16,10.16,10.15,10.14,10.16,10.18,10.12,10.09,10.08,10.08,10.11,10.11,10.08,10.03,10.04,10.04,10.07,10,10,10,9.99,9.96,9.95,9.96,9.95,9.93,9.88,9.89,9.89,9.86,9.85,9.84,9.82,9.81,9.79,9.77,9.76,9.73,9.68,9.65,9.66,9.6,9.54,8.83,10.01,9.99,10.01,
11.3,11.25,11.32,11.25,11.3,11.3,11.25,11.15,11.15,11.05,11.08,11.15,11.05,11.12,11.08,11.12,11.02,11.02,10.95,10.95,10.95,10.98,10.95,10.95,10.85,10.8,10.88,10.8,10.85,10.85,10.72,10.72,10.72,
10.12,10.15,10.12,10.08,10.08,10.1,10.1,10.08,10.05,10.02,10.02,10.02,9.98,9.98,10,10,10.02,9.92,9.9,9.88,9.92,9.9,9.9,9.88,9.8,9.83,9.78,9.82,9.8];
const iBandX=[2.79,3.3,3.8,4.3,4.8,5.3,5.83];
const iBandLo=[11.21,10.97,10.7,10.42,10.12,9.81,9.47];
const iBandHi=[11.39,11.05,10.74,10.46,10.18,9.93,9.67];
const iFitX=[2.79,5.83];
const iFitY=[11.3,9.57];
const iXTicks=[3,4,5];
const iYTicks=[9,10,11];

/* ---------- helpers ---------- */
const NS='http://www.w3.org/2000/svg';
function add(parent,tag,attrs){
  const e=document.createElementNS(NS,tag);
  for(const k in attrs)e.setAttribute(k,attrs[k]);
  parent.appendChild(e);
  return e;
}
function nm(el,name){
  
  
  return el;
}
function txt(parent,x,y,s,size,o){
  o=o||{};
  const yy=y+size*.35;
  const a={x:x,y:yy,'font-size':size};
  if(o.anchor)a['text-anchor']=o.anchor;
  if(o.rot!==undefined)a.transform='rotate('+o.rot+' '+x+' '+y+')';
  if(o.fill)a.style='fill:'+o.fill;
  if(o.italic)a['font-style']='italic';
  if(o.spacing)a['letter-spacing']=o.spacing;
  if(o.len){a.textLength=o.len;a.lengthAdjust='spacingAndGlyphs';}
  const e=add(parent,'text',a);
  e.textContent=s;
  return nm(e,o.name||'label');
}
function line(parent,x1,y1,x2,y2,stroke,w,name,dash){
  const a={x1:x1,y1:y1,x2:x2,y2:y2,stroke:stroke,'stroke-width':w};
  if(dash)a['stroke-dasharray']=dash;
  const e=add(parent,'line',a);
  return nm(e,name||'line');
}
function mix(a,b,t){
  return 'rgb('+[0,1,2].map(function(i){return Math.round(a[i]+(b[i]-a[i])*t);}).join(',')+')';
}
function linear(d0,r0,d1,r1){return function(v){return r0+(v-d0)*(r1-r0)/(d1-d0);};}

/* ---------- Panel A ---------- */
(function(){
  const g=document.getElementById('pA');
  const L=155.6,S=374,R=503,T=118,H=572/28;
  const teal=[69,177,204],red=[219,74,46],white=[255,255,255];
  function col(v){
    v=Math.max(-2,Math.min(2,v));
    return v<0?mix(white,teal,-v/2):mix(white,red,v/2);
  }
  let a=add(g,'rect',{x:L,y:93.5,width:S-L,height:17.5,fill:'#48b1cb'});
  nm(a,'group-bar-eclipse');
  a=add(g,'rect',{x:S,y:93.5,width:R-S,height:17.5,fill:'#dc4b33'});
  nm(a,'group-bar-copdgene');
  txt(g,510,101.5,'group',19,{name:'group-annotation-label'});
  heatGenes.forEach(function(gene,r){
    const vals=heatValues[r];
    vals.forEach(function(v,c){
      const nL=28,nR=vals.length-28;
      const x=c<nL?L+c*(S-L)/nL:S+(c-nL)*(R-S)/nR;
      const w=c<nL?(S-L)/nL:(R-S)/nR;
      const cell=add(g,'rect',{x:x,y:T+r*H,width:w+.3,height:H+.3,fill:col(v),'shape-rendering':'crispEdges'});
      
      
    });
    txt(g,510,T+(r+.5)*H-1.2,gene,19.3,{name:'heatmap-row-label'});
  });
  /* dendrogram */
  const tree=[105,
    [135,[157,0,[165,1,2]],[137,3,[140,4,[145,5,[150,6,[155,7,[165,8,[172,9,[182,10,11]]]]]]]]],
    [126,[128,12,[130,13,[136,14,[145,15,[155,[172,16,17],[165,18,[175,19,[182,20,21]]]]]]]],
         [128,[147,22,[163,23,24]],[143,25,[150,26,27]]]]];
  function zx(z){return 50+z/1.96;}
  const dg=nm(add(g,'g',{}),'row-dendrogram');
  function draw(n){
    if(typeof n==='number')return {x:153.6,y:T+(n+.5)*H};
    const a=draw(n[1]),b=draw(n[2]),x=zx(n[0]);
    line(dg,x,a.y,a.x,a.y,'#555',1,'dendrogram-branch');
    line(dg,x,b.y,b.x,b.y,'#555',1,'dendrogram-branch');
    line(dg,x,a.y,x,b.y,'#555',1,'dendrogram-branch');
    return {x:x,y:(a.y+b.y)/2};
  }
  draw(tree);
  /* legends */
  txt(g,616,290,'group',19,{name:'group-legend-title'});
  a=add(g,'rect',{x:616,y:311,width:23,height:22,fill:'#48b1cb'});nm(a,'legend-swatch-eclipse');
  a=add(g,'rect',{x:616,y:333,width:23,height:22.5,fill:'#dc4b33'});nm(a,'legend-swatch-copdgene');
  txt(g,647,319,'ECLIPSE_whole blood',19.5,{name:'legend-entry-eclipse',len:200});
  txt(g,647,342,'COPDGene_PBMC',19.5,{name:'legend-entry-copdgene',len:173});
  txt(g,614,369.5,'ave.exp',16,{name:'colorbar-title'});
  const barN=70,barT=383,barB=522;
  const yv=linear(2,386.5,-2,515);
  for(let i=0;i<barN;i++){
    const y=barT+i*(barB-barT)/barN;
    const v=2-(y-386.5)/32.1;
    const s=add(g,'rect',{x:616,y:y,width:22,height:(barB-barT)/barN+.5,fill:col(v)});
    nm(s,'colorbar-step');
  }
  [[2,'2'],[1,'1'],[0,'0'],[-1,'−1'],[-2,'−2']].forEach(function(t){
    txt(g,645,yv(t[0]),t[1],19,{name:'colorbar-tick-label'});
  });
})();

/* ---------- Panel B ---------- */
(function(){
  const g=document.getElementById('pB');
  const cx=1243,cy=399.5,r=363,n=netNodes.length;
  const dx=[12,20,21,20,14,10,15,-2,19,21,19,19,20,19,19,13,23,23,23,18,13,29,21,21,21,19,16,7];
  const dy=[0,-3.5,-4,-4,-4,-3.5,-3.5,0,-3.5,-2.5,-3,-3.5,-3.5,-3.5,-3.5,-3.5,-3.5,-3.5,-3,-3.5,-3.5,-3.5,-3.5,-3.5,-4,-4,-4,-2.5];
  function P(i){const a=i*2*Math.PI/n;return [cx+r*Math.sin(a),cy-r*Math.cos(a)];}
  const eg=nm(add(g,'g',{}),'network-edges');
  for(let i=0;i<n;i++)for(let j=i+1;j<n;j++){
    const p=P(i),q=P(j);
    const e=add(eg,'line',{x1:p[0],y1:p[1],x2:q[0],y2:q[1],stroke:'#e4e4e4','stroke-width':.7});
    
    
  }
  netNodes.forEach(function(name,i){
    const p=P(i);
    const e=add(g,'ellipse',{cx:p[0],cy:p[1],rx:27,ry:12.5,fill:netColors[i]});
    
    
  });
  netNodes.forEach(function(name,i){
    const p=P(i);
    txt(g,p[0]+dx[i],p[1]+dy[i],name,18.5,{anchor:'middle',name:'network-node-label'});
  });
})();

/* ---------- Panel C ---------- */
(function(){
  const g=document.getElementById('pC');
  const y=linear(10,870.5,12,795.6);
  const x=function(i){return 136.6+i*44.38;};
  const axisCol='#777';
  line(g,110.3,729,110.3,1158.5,axisCol,1.5,'y-axis-line');
  line(g,110.3,1158.5,1360.7,1158.5,axisCol,1.5,'x-axis-line');
  boxYTicks.forEach(function(t){
    line(g,103,y(t),110.3,y(t),'#444',1.2,'y-tick');
    txt(g,98,y(t),String(t),20.5,{anchor:'end',name:'y-tick-label'});
  });
  function drawBox(cxv,st,out,fill,name){
    const W=18;
    let e=add(g,'line',{x1:cxv,y1:y(st[0]),x2:cxv,y2:y(st[4]),stroke:'#333','stroke-width':1});
    
    
    e=add(g,'rect',{x:cxv-W/2,y:y(st[3]),width:W,height:y(st[1])-y(st[3]),fill:fill,stroke:'#444','stroke-width':1});
    
    
    e=add(g,'line',{x1:cxv-W/2,y1:y(st[2]),x2:cxv+W/2,y2:y(st[2]),stroke:'#222','stroke-width':1.5});
    
    
    out.forEach(function(v){
      const o=add(g,'circle',{cx:cxv,cy:y(v),r:2.1,fill:'#666','fill-opacity':.6});
      
      
    });
  }
  boxGenes.forEach(function(gene,i){
    const cx=x(i);
    line(g,cx,1158.5,cx,1164,'#444',1.2,'x-tick');
    txt(g,cx+8,1173,gene,20.5,{anchor:'end',rot:-35,name:'x-tick-label'});
    drawBox(cx-8.9,blueStats[i],blueOutliers[i],'#45b0cb','eclipse');
    drawBox(cx+8.9,redStats[i],redOutliers[i],'#dc4a32','copdgene');
    if(sigBracket[i]!==null){
      const b=y(sigBracket[i]);
      const p=add(g,'path',{d:'M'+(cx-8.9)+' '+(b+6)+'V'+b+'H'+(cx+8.9)+'V'+(b+6),fill:'none',stroke:'#444','stroke-width':1.1});
      nm(p,'significance-bracket');
      txt(g,cx+6,b-6.5,'***',17.5,{anchor:'middle',spacing:3,name:'significance-stars'});
    }
  });
  txt(g,59,965,'Log-normalized Expression',22.5,{anchor:'middle',rot:-90,name:'y-axis-title',len:269});
  let s=add(g,'rect',{x:460,y:715,width:15,height:9,fill:'#45b0cb',stroke:'#333','stroke-width':.8});nm(s,'legend-swatch-eclipse');
  txt(g,485,715,'ECLIPSE_whole blood',21,{name:'legend-entry-eclipse',len:210});
  s=add(g,'rect',{x:756,y:715,width:15,height:9,fill:'#dc4a32',stroke:'#333','stroke-width':.8});nm(s,'legend-swatch-copdgene');
  txt(g,782,715,'COPDGene_PBMC',21,{name:'legend-entry-copdgene',len:181});
})();

/* ---------- Panel D ---------- */
(function(){
  const g=document.getElementById('pD');
  const x=linear(-1,521.4,-7,171.4),y=linear(0,1490,1,1403.6);
  lassoLambda.forEach(function(ls,k){
    const d=ls.map(function(l,i){return (i?'L':'M')+x(l).toFixed(1)+' '+y(lassoCoef[k][i]).toFixed(1);}).join('');
    const p=add(g,'path',{d:d,fill:'none',stroke:lassoColors[k],'stroke-width':1.7});
    
    
  });
  const fr=add(g,'rect',{x:115,y:1376.7,width:433.6,height:280,fill:'none',stroke:'#111','stroke-width':1.5});
  nm(fr,'plot-frame');
  lassoXTicks.forEach(function(t,i){
    line(g,x(t),1656.7,x(t),1669,'#111',1.3,'x-tick');
    txt(g,x(t),1693,'−'+Math.abs(t),19,{anchor:'middle',name:'x-tick-label'});
    line(g,x(t),1373.5,x(t),1376.7,'#111',1.3,'top-tick');
    txt(g,x(t),1341.7,lassoTop[i],19,{anchor:'middle',name:'top-count-label'});
  });
  lassoYTicks.forEach(function(t,i){
    line(g,103,y(t),115,y(t),'#111',1.3,'y-tick');
    if(lassoYLabels[i])txt(g,79,y(t),lassoYLabels[i],19,{anchor:'middle',rot:-90,name:'y-tick-label'});
  });
  lassoTinyLabels.forEach(function(s,i){
    txt(g,116.5,y(lassoTinyCoef[i]),s,7.5,{anchor:'middle',fill:'#555',name:'path-index-label'});
  });
  txt(g,332,1741.7,'Log Lambda',19.5,{anchor:'middle',name:'x-axis-title'});
  txt(g,31,1517,'Coefficients',19,{anchor:'middle',rot:-90,name:'y-axis-title'});
})();

/* ---------- Panel E ---------- */
(function(){
  const g=document.getElementById('pE');
  const x=linear(-1,1047.7,-7,715.3),y=linear(0,1630.3,1,1448.1);
  const start=-7.69,end=-.813,n=devianceMean.length;
  devianceMean.forEach(function(v,i){
    const l=start+i*(end-start)/(n-1);
    const back=n-1-i;
    const err=back<devianceErr.length?devianceErr[back]:0;
    if(err){
      const c=x(l);
      line(g,c,y(v+err),c,y(v-err),'#aaa',1,'deviance-error-bar');
      line(g,c-3.5,y(v+err),c+3.5,y(v+err),'#aaa',1,'deviance-error-cap');
      line(g,c-3.5,y(v-err),c+3.5,y(v-err),'#aaa',1,'deviance-error-cap');
    }
    const d=add(g,'circle',{cx:x(l),cy:y(v),r:4,fill:'#e8151f'});
    
    
  });
  devianceVlines.forEach(function(l){
    line(g,x(l),1375.3,x(l),1640,'#111',1.3,'lambda-cutoff-line','7 4');
  });
  const fr=add(g,'rect',{x:661.7,y:1375.3,width:412.3,height:264.7,fill:'none',stroke:'#111','stroke-width':1.5});
  nm(fr,'plot-frame');
  devianceXTicks.forEach(function(t){
    line(g,x(t),1640,x(t),1652,'#111',1.3,'x-tick');
    txt(g,x(t),1674,'−'+Math.abs(t),19,{anchor:'middle',name:'x-tick-label'});
  });
  devianceYTicks.forEach(function(t,i){
    line(g,650,y(t),661.7,y(t),'#111',1.3,'y-tick');
    if(devianceYLabels[i])txt(g,628,y(t),devianceYLabels[i],19,{anchor:'middle',rot:-90,name:'y-tick-label'});
  });
  devianceTopLambda.forEach(function(l,i){
    txt(g,x(l),1342,devianceTopCount[i],19,{anchor:'middle',name:'top-count-label'});
  });
  txt(g,867.7,1715,'Log(λ)',19,{anchor:'middle',name:'x-axis-title'});
  txt(g,582,1508,'Binomial Deviance',19,{anchor:'middle',rot:-90,name:'y-axis-title'});
})();

/* ---------- Panel F ---------- */
(function(){
  const g=document.getElementById('pF');
  const x=linear(0,1408.7,4,1532),y=linear(0,1770,100,1621.7);
  function band(ps,l,r,fill,name){
    let d='';
    ps.forEach(function(p,i){d+=(i?'L':'M')+x(l[i]).toFixed(1)+' '+y(p).toFixed(1);});
    for(let i=ps.length-1;i>=0;i--)d+='L'+x(r[i]).toFixed(1)+' '+y(ps[i]).toFixed(1);
    const e=add(g,'path',{d:d+'Z',fill:fill,stroke:fill,'stroke-width':4,'stroke-linejoin':'round'});
    return nm(e,name);
  }
  graySigLfc.forEach(function(v,i){
    const c=add(g,'circle',{cx:x(v),cy:y(graySigP[i]),r:2.8,fill:'#808080','fill-opacity':.7});
    
    
  });
  band(grayCoreP,grayOuterLeft,grayInnerLeft,'#808080','not-sig-dense-left');
  band(grayCoreP,grayInnerRight,grayOuterRight,'#808080','not-sig-dense-right');
  downLfc.forEach(function(v,i){
    const c=add(g,'circle',{cx:x(v),cy:y(downP[i]),r:4.1,fill:'#4ab2cd','fill-opacity':.65});
    
    
  });
  downEdgeLfc.forEach(function(v,i){
    const c=add(g,'circle',{cx:x(v),cy:y(downEdgeP[i]),r:4.1,fill:'#4ab2cd','fill-opacity':.65});
    
    
  });
  upLfc.forEach(function(v,i){
    const c=add(g,'circle',{cx:x(v),cy:y(upP[i]),r:4.1,fill:'#dc4b33','fill-opacity':.65});
    
    
  });
  upEdgeLfc.forEach(function(v,i){
    const c=add(g,'circle',{cx:x(v),cy:y(upEdgeP[i]),r:4.1,fill:'#dc4b33','fill-opacity':.65});
    
    
  });
  band(downCoreP,downCoreLeft,downCoreRight,'#4ab2cd','down-dense-core');
  band(upCoreP,upCoreLeft,upCoreRight,'#dc4b33','up-dense-core');
  line(g,x(-.5),1281,x(-.5),1784.4,'#b5b5b5',1.3,'lfc-threshold-left','9 5');
  line(g,x(.5),1281,x(.5),1784.4,'#cfcfcf',1.3,'lfc-threshold-right','9 5');
  line(g,1156,y(1.3),1659,y(1.3),'#c8c8c8',1.3,'padj-threshold','9 5');
  line(g,1156,1281,1156,1784.4,'#aaa',1.5,'y-axis-line');
  line(g,1156,1784.4,1659,1784.4,'#aaa',1.5,'x-axis-line');
  volcanoXTicks.forEach(function(t){
    line(g,x(t),1784.4,x(t),1789,'#777',1,'x-tick');
    txt(g,x(t),1798,t<0?'−'+Math.abs(t):String(t),15,{anchor:'middle',name:'x-tick-label'});
  });
  volcanoYTicks.forEach(function(t){
    line(g,1150,y(t),1156,y(t),'#777',1,'y-tick');
    txt(g,1148,y(t),String(t),15,{anchor:'end',name:'y-tick-label'});
  });
  const lx=[-4,20,-4,-8,35,40,-16,24,23,26,44,-5,40];
  const ly=[-16,14,-17,-16,-16,-4,-16,13,-16,-17,-2,14,-16];
  const rr=[4,4,4,4,2,2,2,2.4,4,4,4,4,4];
  volcanoGenes.forEach(function(gene,i){
    const px=x(volcanoGeneLfc[i]),py=y(volcanoGeneP[i]);
    const dist=Math.hypot(lx[i],ly[i]);
    const f=Math.min(.62,11/dist);
    line(g,px+lx[i]/dist*rr[i],py+ly[i]/dist*rr[i],px+lx[i]*f,py+ly[i]*f,'#222',.8,'gene-leader-line');
    const c=add(g,'circle',{cx:px,cy:py,r:rr[i],fill:'none',stroke:'#222','stroke-width':.9});
    
    
    txt(g,px+lx[i],py+ly[i],gene,15,{anchor:'middle',name:'highlighted-gene-label'});
  });
  let d=add(g,'circle',{cx:1340.6,cy:1268.6,r:3,fill:'#dc4b33'});nm(d,'legend-dot-up');
  txt(g,1353.6,1268.6,'Up',14.5,{name:'legend-entry-up'});
  d=add(g,'circle',{cx:1382,cy:1268.6,r:3,fill:'#808080'});nm(d,'legend-dot-not-sig');
  txt(g,1392.6,1268.6,'Not sig',14.5,{name:'legend-entry-not-sig'});
  d=add(g,'circle',{cx:1446,cy:1268.6,r:3,fill:'#4ab2cd'});nm(d,'legend-dot-down');
  txt(g,1459,1268.6,'Down',14.5,{name:'legend-entry-down'});
  const yt=add(g,'text',{x:1108,y:1533,'font-size':14.5,'text-anchor':'middle',transform:'rotate(-90 1108 1533)'});
  nm(yt,'y-axis-title');
  let s=add(yt,'tspan',{});s.textContent='−Log';
  s=add(yt,'tspan',{dy:4,'font-size':11});s.textContent='10';
  s=add(yt,'tspan',{dy:-4,'font-style':'italic'});s.textContent='(P.adj)';
  const xt=add(g,'text',{x:1408.7,y:1822,'font-size':14,'text-anchor':'middle'});
  nm(xt,'x-axis-title');
  s=add(xt,'tspan',{});s.textContent='Log';
  s=add(xt,'tspan',{dy:4,'font-size':10.5});s.textContent='2';
  s=add(xt,'tspan',{dy:-4});s.textContent=' (Fold Change)';
})();

/* ---------- Panel G ---------- */
(function(){
  const g=document.getElementById('pG');
  const L=157,T=1885,C=25.8;
  const blue=[27,74,122],red=[207,63,20],white=[255,255,255];
  function col(v){return v<0?mix(white,blue,-v):mix(white,red,v);}
  corGenes.forEach(function(gene,r){
    txt(g,150,T+(r+.5)*C-1.5,gene,19.2,{anchor:'end',name:'row-label'});
    txt(g,L+(r+.5)*C,T+r*C-10,gene,19.2,{rot:-90,name:'column-label'});
    corValues[r].forEach(function(v,c){
      const a=add(g,'rect',{x:L+c*C,y:T+r*C,width:C,height:C,fill:col(v),stroke:'#f7e6e0','stroke-width':.5});
      
      
      if(v<0){
        const h=add(g,'rect',{x:L+c*C,y:T+r*C,width:C,height:C,fill:'url(#hatch)'});
        
        
      }
    });
  });
  const x=linear(-1,157,1,492);
  const N=40;
  for(let i=0;i<N;i++){
    const v=-1+(i+.5)*2/N;
    const s=add(g,'rect',{x:x(-1+i*2/N),y:2226,width:335/N+.3,height:13.3,fill:col(v)});
    nm(s,'colorbar-step');
  }
  const b=add(g,'rect',{x:157,y:2226,width:335,height:13.3,fill:'none',stroke:'#333','stroke-width':1});
  nm(b,'colorbar-frame');
  corTicks.forEach(function(t,i){
    line(g,x(t),2239.3,x(t),2242,'#333',1,'colorbar-tick');
    const tx=i===0?x(t)+2:x(t);
    txt(g,tx,2255,corTickLabels[i],18.5,{anchor:'middle',name:'colorbar-tick-label'});
  });
  txt(g,327.7,2274,'cor.coefficient',16,{anchor:'middle',name:'colorbar-title'});
})();

/* ---------- Panels H & I ---------- */
function scatterPanel(id,cfg){
  const g=document.getElementById(id);
  const x=linear(3,cfg.x3,5,cfg.x5),y=linear(cfg.yA,cfg.yApx,cfg.yB,cfg.yBpx);
  let d='';
  cfg.bandX.forEach(function(v,i){d+=(i?'L':'M')+x(v).toFixed(1)+' '+y(cfg.bandHi[i]).toFixed(1);});
  for(let i=cfg.bandX.length-1;i>=0;i--)d+='L'+x(cfg.bandX[i]).toFixed(1)+' '+y(cfg.bandLo[i]).toFixed(1);
  const rb=add(g,'path',{d:d+'Z',fill:'#d9d9d9'});
  nm(rb,'confidence-band');
  const fit=add(g,'line',{x1:x(cfg.fitX[0]),y1:y(cfg.fitY[0]),x2:x(cfg.fitX[1]),y2:y(cfg.fitY[1]),stroke:'#e31a1c','stroke-width':2.6});
  
  
  cfg.px.forEach(function(v,i){
    const c=add(g,'circle',{cx:x(v),cy:y(cfg.py[i]),r:6.7,fill:'#4478a8',stroke:'#16283a','stroke-width':1.1});
    
    
  });
  line(g,cfg.ax,1893,cfg.ax,cfg.ay,'#222',1.3,'y-axis-line');
  line(g,cfg.ax,cfg.ay,cfg.ar,cfg.ay,'#222',1.6,'x-axis-line');
  cfg.xTicks.forEach(function(t){
    line(g,x(t),cfg.ay,x(t),cfg.ay+4,'#222',1,'x-tick');
    txt(g,x(t),2265,String(t),19,{anchor:'middle',name:'x-tick-label'});
  });
  cfg.yTicks.forEach(function(t){
    line(g,cfg.ax-4,y(t),cfg.ax,y(t),'#222',1,'y-tick');
    txt(g,cfg.ax-8,y(t),String(t),19,{anchor:'end',name:'y-tick-label'});
  });
  txt(g,cfg.titleX,1875,cfg.title,18.5,{name:'chart-title',len:cfg.titleLen});
  const r=add(g,'text',{x:cfg.statX,y:1899,'font-size':17.5,textLength:167,lengthAdjust:'spacingAndGlyphs'});
  nm(r,'correlation-statistics');
  let s=add(r,'tspan',{'font-style':'italic'});s.textContent='R';
  s=add(r,'tspan',{});s.textContent='=−0.85';
  s=add(r,'tspan',{'font-style':'italic'});s.textContent='p';
  s=add(r,'tspan',{});s.textContent='<2.2e−16';
  txt(g,cfg.xTitleX,2288,'ZC3H13 expression level',18.5,{anchor:'middle',name:'x-axis-title',len:217});
  txt(g,cfg.yTitleX,cfg.yTitleY,cfg.yTitle,18.5,{anchor:'middle',rot:-90,name:'y-axis-title',len:cfg.yTitleLen});
}
scatterPanel('pH',{x3:686.7,x5:913.8,yA:12,yApx:1952.3,yB:8,yBpx:2208,px:hX,py:hY,bandX:hBandX,bandLo:hBandLo,bandHi:hBandHi,fitX:hFitX,fitY:hFitY,ax:645.9,ay:2249.7,ar:1024.7,xTicks:hXTicks,yTicks:hYTicks,title:'Correlation between ZC3H13 and IGF2BP2',titleX:640,titleLen:378,statX:664,xTitleX:831.5,yTitle:'IGF2BP2 expression level',yTitleX:600.6,yTitleY:2075,yTitleLen:224});
scatterPanel('pI',{x3:1205.8,x5:1432.2,yA:11,yApx:1970.3,yB:9,yBpx:2213,px:iX,py:iY,bandX:iBandX,bandLo:iBandLo,bandHi:iBandHi,fitX:iFitX,fitY:iFitY,ax:1164.4,ay:2249,ar:1544,xTicks:iXTicks,yTicks:iYTicks,title:'Correlation between ZC3H13 and FTO',titleX:1181,titleLen:336,statX:1183.5,xTitleX:1350.6,yTitle:'FTO expression level',yTitleX:1119.7,yTitleY:2073,yTitleLen:180});
</script>
</body>
</html>
